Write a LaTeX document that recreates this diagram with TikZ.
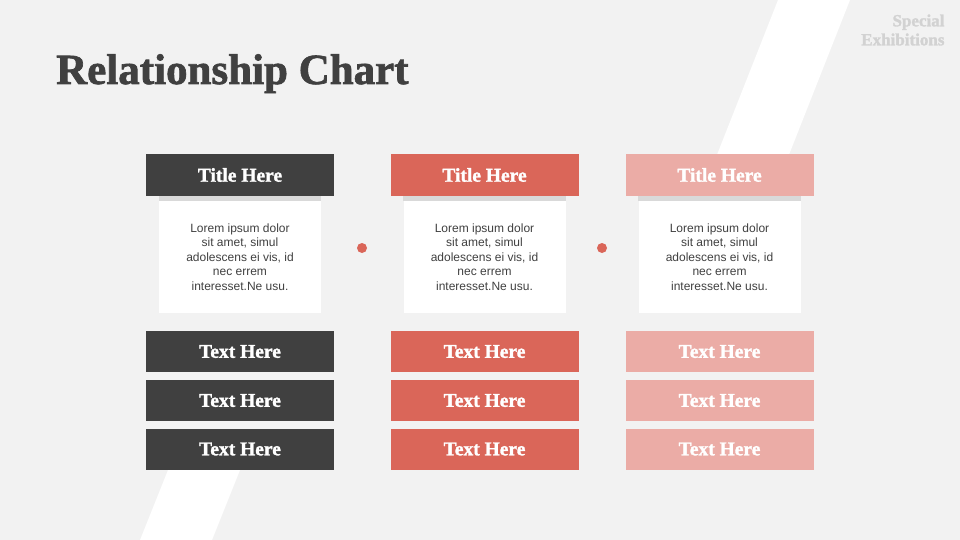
\documentclass[tikz,border=0pt]{standalone}
\usepackage{fontspec}
\setmainfont{Liberation Serif}
\setsansfont{Liberation Sans}
\newfontfamily\headfont[FakeBold=1.6]{Liberation Serif}
\usetikzlibrary{positioning}

\definecolor{bggray}{HTML}{F2F2F2}
\definecolor{darkbox}{HTML}{404040}
\definecolor{redbox}{HTML}{DA6659}
\definecolor{pinkbox}{HTML}{EBACA6}
\definecolor{shadowgray}{HTML}{D9D9D9}
\definecolor{fadegray}{HTML}{D2D2D2}

\tikzset{
  headbox/.style={minimum width=188pt,minimum height=42pt,inner sep=0pt,text=white,
    font=\headfont\bfseries\fontsize{19.5}{20}\selectfont},
  rowbox/.style={headbox,minimum height=41pt},
  bodybox/.style={fill=white,minimum width=162pt,minimum height=112pt,inner sep=0pt,
    align=center,text=darkbox,font=\sffamily\fontsize{12}{14.4}\selectfont},
  linkdot/.style={circle,fill=redbox,minimum size=10pt,inner sep=0pt}
}

\begin{document}
\begin{tikzpicture}[x=1pt,y=-1pt]
\fill[bggray] (0,0) rectangle (960,540);
\useasboundingbox (0,0) rectangle (960,540);

% white stripes
\fill[white] (778,0) -- (850,0) -- (781,175) -- (709,175) -- cycle;
\fill[white] (140,540) -- (212,540) -- (248,450) -- (176,450) -- cycle;

\node[anchor=base west,inner sep=0pt,text=darkbox,font=\headfont\bfseries\fontsize{43}{43}\selectfont] (title) at (56,84) {Relationship Chart};
\node[anchor=east,align=right,text=fadegray,font=\headfont\bfseries\fontsize{17}{19}\selectfont] (corner) at (948,30) {Special\\Exhibitions};

% first column
\node[headbox,fill=darkbox] (t1) at (240,175) {Title Here};
\node[bodybox] (b1) at (240,257) {Lorem ipsum dolor\\sit amet, simul\\adolescens ei vis, id\\nec errem\\interesset.Ne usu.};
\fill[shadowgray] (b1.north west) rectangle ([yshift=5pt]b1.north east);
\node[rowbox,fill=darkbox] (r11) at (240,351.5) {Text Here};
\node[rowbox,fill=darkbox] (r12) at (240,400.5) {Text Here};
\node[rowbox,fill=darkbox] (r13) at (240,449) {Text Here};

% second column
\node[headbox,fill=redbox] (t2) at (484.5,175) {Title Here};
\node[bodybox] (b2) at (484.5,257) {Lorem ipsum dolor\\sit amet, simul\\adolescens ei vis, id\\nec errem\\interesset.Ne usu.};
\fill[shadowgray] (b2.north west) rectangle ([yshift=5pt]b2.north east);
\node[rowbox,fill=redbox] (r21) at (484.5,351.5) {Text Here};
\node[rowbox,fill=redbox] (r22) at (484.5,400.5) {Text Here};
\node[rowbox,fill=redbox] (r23) at (484.5,449) {Text Here};

% third column
\node[headbox,fill=pinkbox] (t3) at (719.5,175) {Title Here};
\node[bodybox] (b3) at (719.5,257) {Lorem ipsum dolor\\sit amet, simul\\adolescens ei vis, id\\nec errem\\interesset.Ne usu.};
\fill[shadowgray] (b3.north west) rectangle ([yshift=5pt]b3.north east);
\node[rowbox,fill=pinkbox] (r31) at (719.5,351.5) {Text Here};
\node[rowbox,fill=pinkbox] (r32) at (719.5,400.5) {Text Here};
\node[rowbox,fill=pinkbox] (r33) at (719.5,449) {Text Here};

\node[linkdot] (d12) at (362,248) {};
\node[linkdot] (d23) at (602,248) {};
\end{tikzpicture}
\end{document}
